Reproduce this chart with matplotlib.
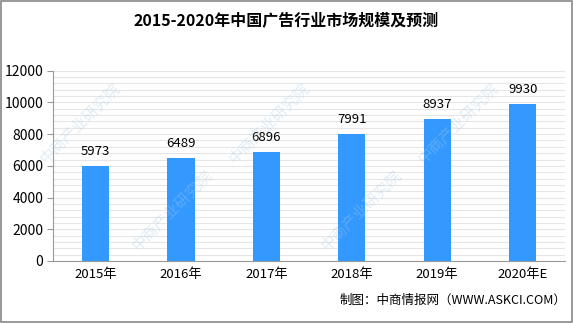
import numpy as np
import matplotlib as mpl
import matplotlib.pyplot as plt

plt.rcParams['font.family'] = ['Noto Sans CJK SC', 'DejaVu Sans']

years = ['2015年', '2016年', '2017年', '2018年', '2019年', '2020年E']
values = [5973, 6489, 6896, 7991, 8937, 9930]
title = '2015-2020年中国广告行业市场规模及预测'
source = '制图：中商情报网（WWW.ASKCI.COM）'

fig = plt.figure(figsize=(5.73, 3.23), dpi=100)
ax = fig.add_axes([0.0925, 0.192, 0.894, 0.589])

x = np.arange(len(years))
ax.bar(x, values, width=0.32, color='#3399FF', zorder=3)
for xi, v in zip(x, values):
    ax.text(xi, v + 500, str(v), ha='center', va='bottom', fontsize=9.5, color='black', zorder=4)

ax.set_xlim(-0.5, len(years) - 0.5)
ax.set_ylim(0, 12000)
ax.set_yticks(np.arange(0, 12001, 2000))
ax.set_yticks(np.arange(0, 12001, 400), minor=True)
ax.tick_params(axis='y', which='minor', length=0)
ax.tick_params(axis='y', which='major', length=4, color='#999999', labelsize=10, pad=3)
ax.set_xticks(x)
ax.set_xticklabels(years)
ax.tick_params(axis='x', length=0, labelsize=9.5, pad=5)
ax.grid(axis='y', which='both', color='#e6e6e6', linewidth=0.8, zorder=0)
for s in ['top', 'right']:
    ax.spines[s].set_visible(False)
for s in ['left', 'bottom']:
    ax.spines[s].set_color('#999999')

fig.text(0.5, 0.935, title, ha='center', va='center', fontsize=11.5, fontweight='bold')
fig.text(0.988, 0.07, source, ha='right', va='center', fontsize=9)

# faint watermarks
for wx, wy in [(0.14, 0.62), (0.47, 0.62), (0.8, 0.62), (0.3, 0.35), (0.63, 0.35)]:
    fig.text(wx, wy, '中商产业研究院', rotation=45, ha='center', va='center', fontsize=11,
             color='#a9cbe6', alpha=0.35, zorder=0)

fig.patches.append(mpl.patches.Rectangle((0.001, 0.002), 0.997, 0.995, transform=fig.transFigure,
                                         fill=False, edgecolor='#888888', linewidth=1.2))

fig.savefig('out.png', dpi=100)
